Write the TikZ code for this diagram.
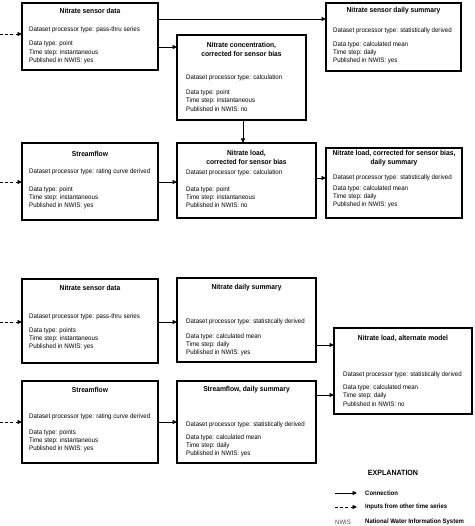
\documentclass[tikz,border=0pt]{standalone}
\usepackage{fontspec}
\setmainfont[FakeStretch=0.93]{Liberation Sans}
\usetikzlibrary{arrows.meta}
\begin{document}
\begin{tikzpicture}[x=1pt,y=-1pt,
  box/.style={draw,line width=1.6pt,anchor=north west,inner sep=0pt,outer sep=0pt},
  txt/.style={anchor=west,inner sep=0pt,font=\fontsize{6.6}{8}\selectfont},
  ttl/.style={inner sep=0pt,align=center,font=\fontsize{7.2}{8.8}\selectfont\bfseries},
  conn/.style={line width=0.8pt,-{Triangle[length=4.5pt,width=4pt]}},
  inp/.style={conn,dash pattern=on 2.8pt off 2.4pt}]
\useasboundingbox (0,0) rectangle (474,526);
% ---------- boxes ----------
\node[box,minimum width=136pt,minimum height=67pt] (b1) at (22,3) {};
\node[box,minimum width=129pt,minimum height=85pt] (b2) at (177,35) {};
\node[box,minimum width=135pt,minimum height=68pt] (b3) at (326,3) {};
\node[box,minimum width=136pt,minimum height=77pt] (b4) at (22,143) {};
\node[box,minimum width=139pt,minimum height=75pt] (b5) at (177,143) {};
\node[box,minimum width=136pt,minimum height=70pt] (b6) at (326,148) {};
\node[box,minimum width=136pt,minimum height=84pt] (b7) at (22,279) {};
\node[box,minimum width=139pt,minimum height=84pt] (b8) at (177,278) {};
\node[box,minimum width=138pt,minimum height=86pt] (b9) at (334,328) {};
\node[box,minimum width=136pt,minimum height=82pt] (b10) at (22,381) {};
\node[box,minimum width=139pt,minimum height=82pt] (b11) at (177,381) {};
% ---------- texts ----------
% b1
\node[ttl] (t1) at (90,11) {Nitrate sensor data};
\node[txt] (t1a) at (29,30) {Dataset processor type: pass-thru series};
\node[txt] (t1b) at (29,44) {Data type: point};
\node[txt] (t1c) at (29,52.5) {Time step: instantaneous};
\node[txt] (t1d) at (29,61) {Published in NWIS: yes};
% b2
\node[ttl] (t2) at (241.5,49.5) {Nitrate concentration,\\corrected for sensor bias};
\node[txt] (t2a) at (186,78) {Dataset processor type: calculation};
\node[txt] (t2b) at (186,93) {Data type: point};
\node[txt] (t2c) at (186,101) {Time step: instantaneous};
\node[txt] (t2d) at (186,109) {Published in NWIS: no};
% b3
\node[ttl] (t3) at (393.5,10.5) {Nitrate sensor daily summary};
\node[txt] (t3a) at (333,31) {Dataset processor type: statistically derived};
\node[txt] (t3b) at (333,45) {Data type: calculated mean};
\node[txt] (t3c) at (333,53) {Time step: daily};
\node[txt] (t3d) at (333,61) {Published in NWIS: yes};
% b4
\node[ttl] (t4) at (90,154) {Streamflow};
\node[txt] (t4a) at (29,172) {Dataset processor type: rating curve derived};
\node[txt] (t4b) at (29,190) {Data type: point};
\node[txt] (t4c) at (29,198) {Time step: instantaneous};
\node[txt] (t4d) at (29,206) {Published in NWIS: yes};
% b5
\node[ttl] (t5) at (246.5,157.5) {Nitrate load,\\corrected for sensor bias};
\node[txt] (t5a) at (186,173) {Dataset processor type: calculation};
\node[txt] (t5b) at (186,189.5) {Data type: point};
\node[txt] (t5c) at (186,197.5) {Time step: instantaneous};
\node[txt] (t5d) at (186,205.5) {Published in NWIS: no};
% b6
\node[ttl] (t6) at (394,158.5) {Nitrate load, corrected for sensor bias,\\daily summary};
\node[txt] (t6a) at (333,178) {Dataset processor type: statistically derived};
\node[txt] (t6b) at (333,189) {Data type: calculated mean};
\node[txt] (t6c) at (333,197) {Time step: daily};
\node[txt] (t6d) at (333,205) {Published in NWIS: yes};
% b7
\node[ttl] (t7) at (90,288) {Nitrate sensor data};
\node[txt] (t7a) at (29,317) {Dataset processor type: pass-thru series};
\node[txt] (t7b) at (29,331) {Data type: points};
\node[txt] (t7c) at (29,339) {Time step: instantaneous};
\node[txt] (t7d) at (29,347) {Published in NWIS: yes};
% b8
\node[ttl] (t8) at (246.5,288) {Nitrate daily summary};
\node[txt] (t8a) at (186,322) {Dataset processor type: statistically derived};
\node[txt] (t8b) at (186,337) {Data type: calculated mean};
\node[txt] (t8c) at (186,345) {Time step: daily};
\node[txt] (t8d) at (186,353) {Published in NWIS: yes};
% b9
\node[ttl] (t9) at (403,338) {Nitrate load, alternate model};
\node[txt] (t9a) at (343,375) {Dataset processor type: statistically derived};
\node[txt] (t9b) at (343,388) {Data type: calculated mean};
\node[txt] (t9c) at (343,396) {Time step: daily};
\node[txt] (t9d) at (343,404) {Published in NWIS: no};
% b10
\node[ttl] (t10) at (90,390) {Streamflow};
\node[txt] (t10a) at (29,417) {Dataset processor type: rating curve derived};
\node[txt] (t10b) at (29,433) {Data type: points};
\node[txt] (t10c) at (29,441) {Time step: instantaneous};
\node[txt] (t10d) at (29,449) {Published in NWIS: yes};
% b11
\node[ttl] (t11) at (246.5,390) {Streamflow, daily summary};
\node[txt] (t11a) at (186,425) {Dataset processor type: statistically derived};
\node[txt] (t11b) at (186,438) {Data type: calculated mean};
\node[txt] (t11c) at (186,446) {Time step: daily};
\node[txt] (t11d) at (186,454) {Published in NWIS: yes};
% ---------- connectors ----------
\draw[conn] (b1.east |- 0,19) -- (b3.west |- 0,19);
\draw[conn] (b1.east |- 0,47) -- (b2.west |- 0,47);
\draw[conn] (b2.south -| 243,0) -- (b5.north -| 243,0);
\draw[conn] (b4.east |- 0,182) -- (b5.west |- 0,182);
\draw[conn] (b5.east |- 0,178) -- (b6.west |- 0,178);
\draw[conn] (b7.east |- 0,322) -- (b8.west |- 0,322);
\draw[conn] (b8.east |- 0,345) -- (b9.west |- 0,345);
\draw[conn] (b10.east |- 0,422) -- (b11.west |- 0,422);
\draw[conn] (b11.east |- 0,395) -- (b9.west |- 0,395);
% inputs
\coordinate (i1) at (0,34);
\coordinate (i2) at (0,182);
\coordinate (i3) at (0,322);
\coordinate (i4) at (0,422);
\draw[inp] (i1) -- (b1.west |- i1);
\draw[inp] (i2) -- (b4.west |- i2);
\draw[inp] (i3) -- (b7.west |- i3);
\draw[inp] (i4) -- (b10.west |- i4);
% ---------- explanation ----------
\node[inner sep=0pt,font=\fontsize{7.6}{9}\selectfont\bfseries] (ex) at (393,473) {EXPLANATION};
\coordinate (l1a) at (335,493);
\coordinate (l1b) at (357,493);
\coordinate (l2a) at (335,507);
\coordinate (l2b) at (357,507);
\draw[conn] (l1a) -- (l1b);
\draw[inp] (l2a) -- (l2b);
\node[txt,font=\fontsize{6.4}{8}\selectfont\bfseries] (lc) at (365,493) {Connection};
\node[txt,font=\fontsize{6.4}{8}\selectfont\bfseries] (li) at (365,507) {Inputs from other time series};
\node[txt,font=\fontsize{6.4}{8}\selectfont,text=black!70] (ln) at (335,522) {NWIS};
\node[txt,font=\fontsize{6.4}{8}\selectfont\bfseries] (lw) at (365,522) {National Water Information System};
\end{tikzpicture}
\end{document}
